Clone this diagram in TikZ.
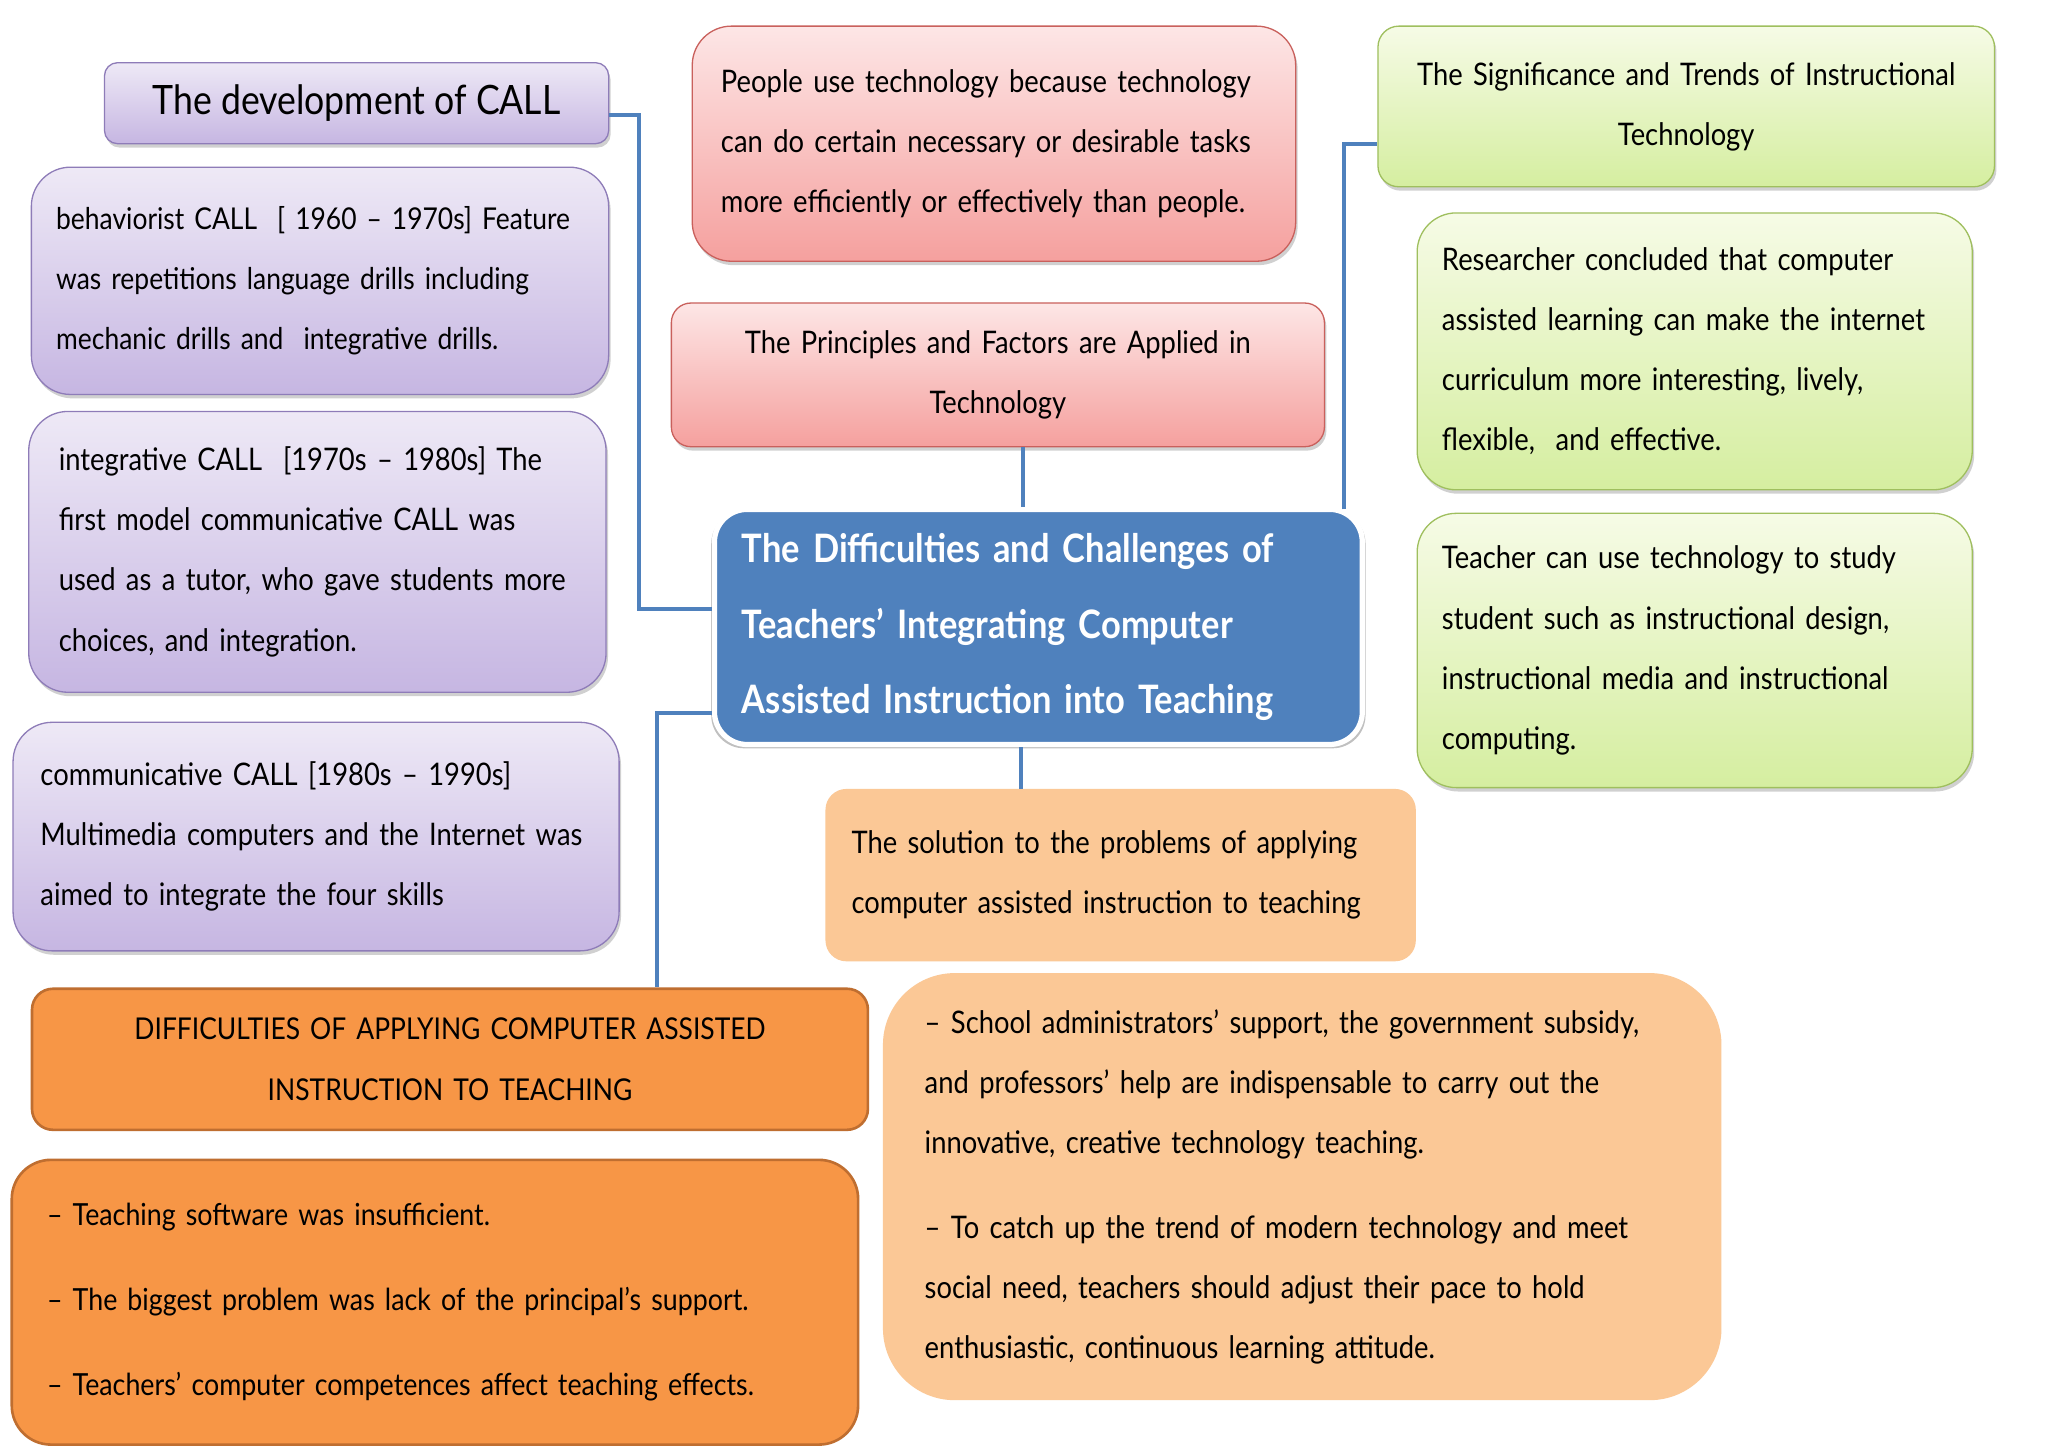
\documentclass[tikz,border=0pt]{standalone}
\usepackage{fontspec}
\setmainfont[FakeStretch=0.88]{Lato}
\usetikzlibrary{shadows}
\definecolor{connc}{HTML}{4F81BD}
\definecolor{lavtop}{HTML}{EEE9F6}
\definecolor{lavbot}{HTML}{C6B6E2}
\definecolor{lavdraw}{HTML}{8E7CB8}
\definecolor{pinktop}{HTML}{FDE6E6}
\definecolor{pinkbot}{HTML}{F5A09E}
\definecolor{pinkdraw}{HTML}{C9605C}
\definecolor{greentop}{HTML}{F6FBE6}
\definecolor{greenbot}{HTML}{D5EEA0}
\definecolor{greendraw}{HTML}{9FBF5E}
\definecolor{bluefill}{HTML}{4F81BD}
\definecolor{peach}{HTML}{FBC896}
\definecolor{orangefill}{HTML}{F79646}
\definecolor{orangedraw}{HTML}{BF6E30}
\begin{document}
\begin{tikzpicture}[x=1pt,y=-1pt,
  every node/.style={inner ysep=0pt},
  body/.style={font=\fontsize{23.8}{46}\selectfont, align=left},
  shad/.style={drop shadow={shadow xshift=1.5pt, shadow yshift=-3pt, opacity=0.3, fill=black!60}},
  purp/.style={shad, draw=lavdraw, line width=1pt, top color=lavtop, bottom color=lavbot},
  pinkb/.style={shad, draw=pinkdraw, line width=1pt, top color=pinktop, bottom color=pinkbot},
  greenb/.style={shad, draw=greendraw, line width=1pt, top color=greentop, bottom color=greenbot},
  peachb/.style={fill=peach},
  orangeb/.style={fill=orangefill, draw=orangedraw, line width=2pt},
  centralb/.style={drop shadow={shadow xshift=0pt, shadow yshift=-2pt, opacity=0.35, fill=black!70, shadow scale=1.01},
    fill=bluefill, draw=white, line width=4pt, text=white},
  conn/.style={draw=connc, line width=3pt}
]
\useasboundingbox[fill=white] (0,0) rectangle (1568,1109);

% left column
\node[purp, rounded corners=10pt, minimum width=386pt, minimum height=62pt,
  font=\fontsize{31}{36}\selectfont] (call) at (273,79) {The development of CALL};
\node[purp, body, font=\fontsize{23}{46}\selectfont, rounded corners=30pt, text width=404pt, inner xsep=19pt, minimum height=174pt]
  (beh) at (245,215) {\mbox{behaviorist CALL \ [ 1960 – 1970s] Feature}\\\mbox{was repetitions language drills including}\\\mbox{mechanic drills and \ integrative drills.}};
\node[purp, body, rounded corners=30pt, text width=396pt, inner xsep=23pt, minimum height=215pt]
  (integ) at (243,422.5) {integrative CALL \ [1970s – 1980s] The\\first model communicative CALL was\\used as a tutor, who gave students more\\choices, and integration.};
\node[purp, body, rounded corners=30pt, text width=422pt, inner xsep=21pt, minimum height=175pt]
  (comm) at (242,640.5) {communicative CALL [1980s – 1990s]\\Multimedia computers and the Internet was\\aimed to integrate the four skills};

% middle column
\node[pinkb, body, rounded corners=30pt, text width=418pt, inner xsep=22pt, minimum height=180pt]
  (people) at (761,110) {People use technology because technology\\can do certain necessary or desirable tasks\\more efficiently or effectively than people.};
\node[pinkb, body, align=center, rounded corners=15pt, text width=470pt, inner xsep=15pt, minimum height=110pt]
  (prin) at (764,287) {The Principles and Factors are Applied in\\Technology};
\node[centralb, align=left, font=\fontsize{30}{58}\selectfont\bfseries, rounded corners=25pt,
  text width=454pt, inner xsep=21pt, minimum height=180pt]
  (ctr) at (795,480) {The Difficulties and Challenges of\\Teachers' Integrating Computer\\Assisted Instruction into Teaching};
\node[peachb, body, rounded corners=16pt, text width=412pt, inner xsep=20pt, minimum height=132pt]
  (sol) at (858,670) {The solution to the problems of applying\\computer assisted instruction to teaching\\[6pt]};
\node[peachb, body, rounded corners=55pt, text width=578pt, inner xsep=32pt, minimum height=327pt]
  (sup) at (997,908.5) {– School administrators' support, the government subsidy,\\and professors' help are indispensable to carry out the\\innovative, creative technology teaching.\\[19pt]– To catch up the trend of modern technology and meet\\social need, teachers should adjust their pace to hold\\enthusiastic, continuous learning attitude.};

% bottom left
\node[orangeb, align=center, font=\fontsize{23}{46}\selectfont, rounded corners=16pt,
  text width=610pt, inner xsep=15pt, minimum height=108pt]
  (diff) at (344.5,811) {DIFFICULTIES OF APPLYING COMPUTER ASSISTED\\INSTRUCTION TO TEACHING};
\node[orangeb, align=left, font=\fontsize{23.3}{65}\selectfont, rounded corners=30pt,
  text width=594pt, inner xsep=27pt, minimum height=218pt]
  (bul) at (333,997) {– Teaching software was insufficient.\\– The biggest problem was lack of the principal's support.\\– Teachers' computer competences affect teaching effects.};

% right column
\node[greenb, body, align=center, rounded corners=16pt, text width=450pt, inner xsep=11pt, minimum height=123pt]
  (sig) at (1291,81.5) {The Significance and Trends of Instructional\\Technology};
\node[greenb, body, rounded corners=30pt, text width=387pt, inner xsep=19pt, minimum height=212pt]
  (res) at (1297.5,269) {Researcher concluded that computer\\assisted learning can make the internet\\curriculum more interesting, lively,\\flexible, \ and effective.};
\node[greenb, body, rounded corners=30pt, text width=387pt, inner xsep=19pt, minimum height=210pt]
  (tea) at (1297.5,498) {Teacher can use technology to study\\student such as instructional design,\\instructional media and instructional\\computing.};

% connectors
\draw[conn] ([yshift=-9pt]call.east) -- ++(23,0) |- ([yshift=14pt]ctr.west);
\draw[conn] ([yshift=-66pt]ctr.west) -| ([xshift=158.5pt]diff.north);
\draw[conn] ([xshift=19pt]prin.south) -- ([xshift=-12pt]ctr.north);
\draw[conn] ([xshift=-13pt]ctr.south) -- ([xshift=-76pt]sol.north);
\draw[conn] ([xshift=-16pt,yshift=-2pt]ctr.north east) |- ([yshift=-28.5pt]sig.west);
\end{tikzpicture}
\end{document}
